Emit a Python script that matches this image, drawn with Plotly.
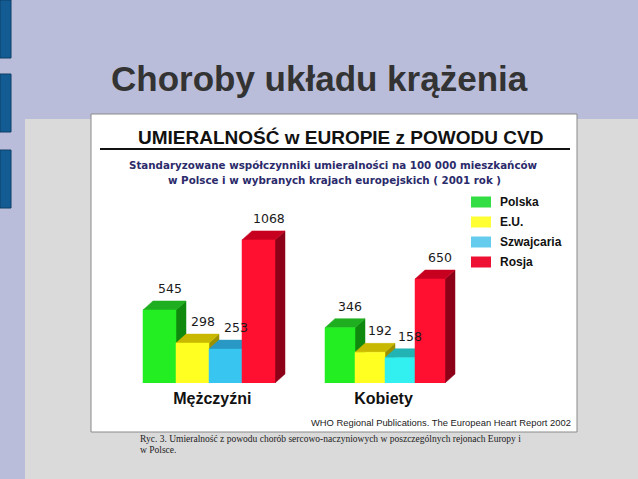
import plotly.graph_objects as go

# ---------------- data ----------------
groups = ["Mężczyźni", "Kobiety"]
series = ["Polska", "E.U.", "Szwajcaria", "Rosja"]
men_values = [545, 298, 253, 1068]
women_values = [346, 192, 158, 650]

slide_title = "Choroby układu krążenia"
chart_title = "UMIERALNOŚĆ w EUROPIE z POWODU CVD"
chart_subtitle = ["Standaryzowane współczynniki umieralności na 100 000 mieszkańców",
                  "w Polsce i w wybranych krajach europejskich ( 2001 rok )"]
source_text = "WHO Regional Publications. The European Heart Report 2002"
caption_lines = ["Ryc. 3. Umieralność z powodu chorób sercowo-naczyniowych w poszczególnych rejonach Europy i",
                 "w Polsce."]

# ---------------- styles ----------------
W, H = 638, 479
front_men = ["#22ee22", "#ffff22", "#38c6f0", "#ff1030"]
front_women = ["#22ee22", "#ffff22", "#33f0f0", "#ff1030"]
top_cols = ["#1fae1f", "#c8b800", "#2a98c4", "#c80020"]
top_cols_w = ["#1fae1f", "#c8b800", "#22b4b4", "#c80020"]
side_cols = ["#0f8a0f", "#9a9000", "#1a78a0", "#8c0018"]
legend_cols = ["#33dd44", "#ffff33", "#66ccee", "#ee1133"]

def px_x(p):
    return p / W

def px_y(p):
    return (H - p) / H

fig = go.Figure()

# subplot settings: (xaxis, yaxis, values, dx, dy, fronts, tops)
subplots = [
    ("x", "y", men_values, 0.303, 67.0, front_men, top_cols),
    ("x2", "y2", women_values, 0.333, 56.0, front_women, top_cols_w),
]

annotations = []
for xa, ya, vals, dx, dy, fronts, tops in subplots:
    for i, v in enumerate(vals):
        l, r = i - 0.5, i + 0.5
        # side face
        fig.add_trace(go.Scatter(
            x=[r, r + dx, r + dx, r, r], y=[0, dy, v + dy, v, 0],
            fill="toself", mode="lines", fillcolor=side_cols[i],
            line=dict(color=side_cols[i], width=0.5),
            xaxis=xa, yaxis=ya, showlegend=False, hoverinfo="skip"))
        # top face
        fig.add_trace(go.Scatter(
            x=[l, r, r + dx, l + dx, l], y=[v, v, v + dy, v + dy, v],
            fill="toself", mode="lines", fillcolor=tops[i],
            line=dict(color=tops[i], width=0.5),
            xaxis=xa, yaxis=ya, showlegend=False, hoverinfo="skip"))
        # front face
        fig.add_trace(go.Scatter(
            x=[l, r, r, l, l], y=[0, 0, v, v, 0],
            fill="toself", mode="lines", fillcolor=fronts[i],
            line=dict(color=fronts[i], width=0.5),
            xaxis=xa, yaxis=ya, showlegend=False, hoverinfo="skip"))
        annotations.append(dict(
            x=i + dx, y=v + dy, xref=xa, yref=ya, text=str(v),
            showarrow=False, yanchor="bottom", yshift=3,
            font=dict(family="DejaVu Sans", size=12.5, color="#1a1a1a")))

# legend swatches as horizontal bars on their own axis
fig.add_trace(go.Bar(
    x=[1] * len(series), y=list(range(len(series))), orientation="h",
    width=0.55, marker=dict(color=legend_cols, line=dict(width=0)),
    xaxis="x3", yaxis="y3", showlegend=False, hoverinfo="skip"))

axis_off = dict(showgrid=False, zeroline=False, showline=False, ticks="")
fig.update_layout(
    width=W, height=H,
    margin=dict(l=0, r=0, t=0, b=0),
    paper_bgcolor="#b9bdd9",
    plot_bgcolor="rgba(0,0,0,0)",
    showlegend=False,
    xaxis=dict(domain=[px_x(133.1), px_x(291.5)], range=[-0.8, 4.0], **axis_off,
               tickvals=[1.6], ticktext=[groups[0]], ticklabelstandoff=4,
               tickfont=dict(family="Liberation Sans", size=16, color="#111111", weight="bold")),
    yaxis=dict(domain=[px_y(383), px_y(200)], range=[0, 1365.7], visible=False),
    xaxis2=dict(domain=[px_x(316), px_x(460)], range=[-0.8, 4.0], anchor="y2", **axis_off,
                tickvals=[1.45], ticktext=[groups[1]], ticklabelstandoff=4,
                tickfont=dict(family="Liberation Sans", size=16, color="#111111", weight="bold")),
    yaxis2=dict(domain=[px_y(383), px_y(200)], range=[0, 1143.75], anchor="x2", visible=False),
    xaxis3=dict(domain=[px_x(471), px_x(491)], range=[0, 1], anchor="y3", visible=False),
    yaxis3=dict(domain=[px_y(272), px_y(192)], range=[3.5, -0.5], anchor="x3", side="right",
                **axis_off, tickvals=list(range(len(series))), ticktext=series,
                ticklabelstandoff=8,
                tickfont=dict(family="Liberation Sans", size=12, color="#111111", weight="bold")),
)

shapes = []
# left blue tabs
for (y0, y1) in [(0, 58), (74, 132), (150, 208)]:
    shapes.append(dict(type="rect", xref="paper", yref="paper", x0=px_x(0), x1=px_x(11),
                       y0=px_y(y1), y1=px_y(y0), fillcolor="#135c93",
                       line=dict(color="#0d3f66", width=1), layer="below"))
# gray panel
shapes.append(dict(type="rect", xref="paper", yref="paper", x0=px_x(25), x1=px_x(638),
                   y0=px_y(479), y1=px_y(119), fillcolor="#dadada", line=dict(width=0), layer="below"))
# white chart box
shapes.append(dict(type="rect", xref="paper", yref="paper", x0=px_x(91), x1=px_x(577),
                   y0=px_y(432), y1=px_y(114), fillcolor="#ffffff",
                   line=dict(color="#8a8a8a", width=1), layer="below"))
# rule under inner title
shapes.append(dict(type="line", xref="paper", yref="paper", x0=px_x(100), x1=px_x(570),
                   y0=px_y(149), y1=px_y(149), line=dict(color="#111111", width=2), layer="below"))

def paper_text(text, x, y, size, family="Liberation Sans", color="#111111", weight="normal",
               xanchor="center"):
    return dict(x=px_x(x), y=px_y(y), xref="paper", yref="paper", text=text, showarrow=False,
                xanchor=xanchor, yanchor="middle",
                font=dict(family=family, size=size, color=color, weight=weight))

annotations += [
    paper_text(slide_title, 109, 78, 35, color="#333333", weight="bold", xanchor="left"),
    paper_text(chart_title, 340, 137.5, 19, color="#111111", weight="bold"),
    paper_text(chart_subtitle[0], 333, 165, 10.3, family="DejaVu Sans", color="#2b2b6b", weight="bold"),
    paper_text(chart_subtitle[1], 334, 180, 10.3, family="DejaVu Sans", color="#2b2b6b", weight="bold"),
    paper_text(source_text, 573, 422, 9.4, color="#222222", xanchor="right"),
    paper_text(caption_lines[0], 138, 439, 9.5, family="Liberation Serif", color="#222222", xanchor="left"),
    paper_text(caption_lines[1], 138, 449.5, 9.5, family="Liberation Serif", color="#222222", xanchor="left"),
]

fig.update_layout(shapes=shapes, annotations=annotations)
fig.write_html("out.html", config={"displayModeBar": False},
               post_script="document.body.style.margin='0';document.body.style.background='#b9bdd9';")
